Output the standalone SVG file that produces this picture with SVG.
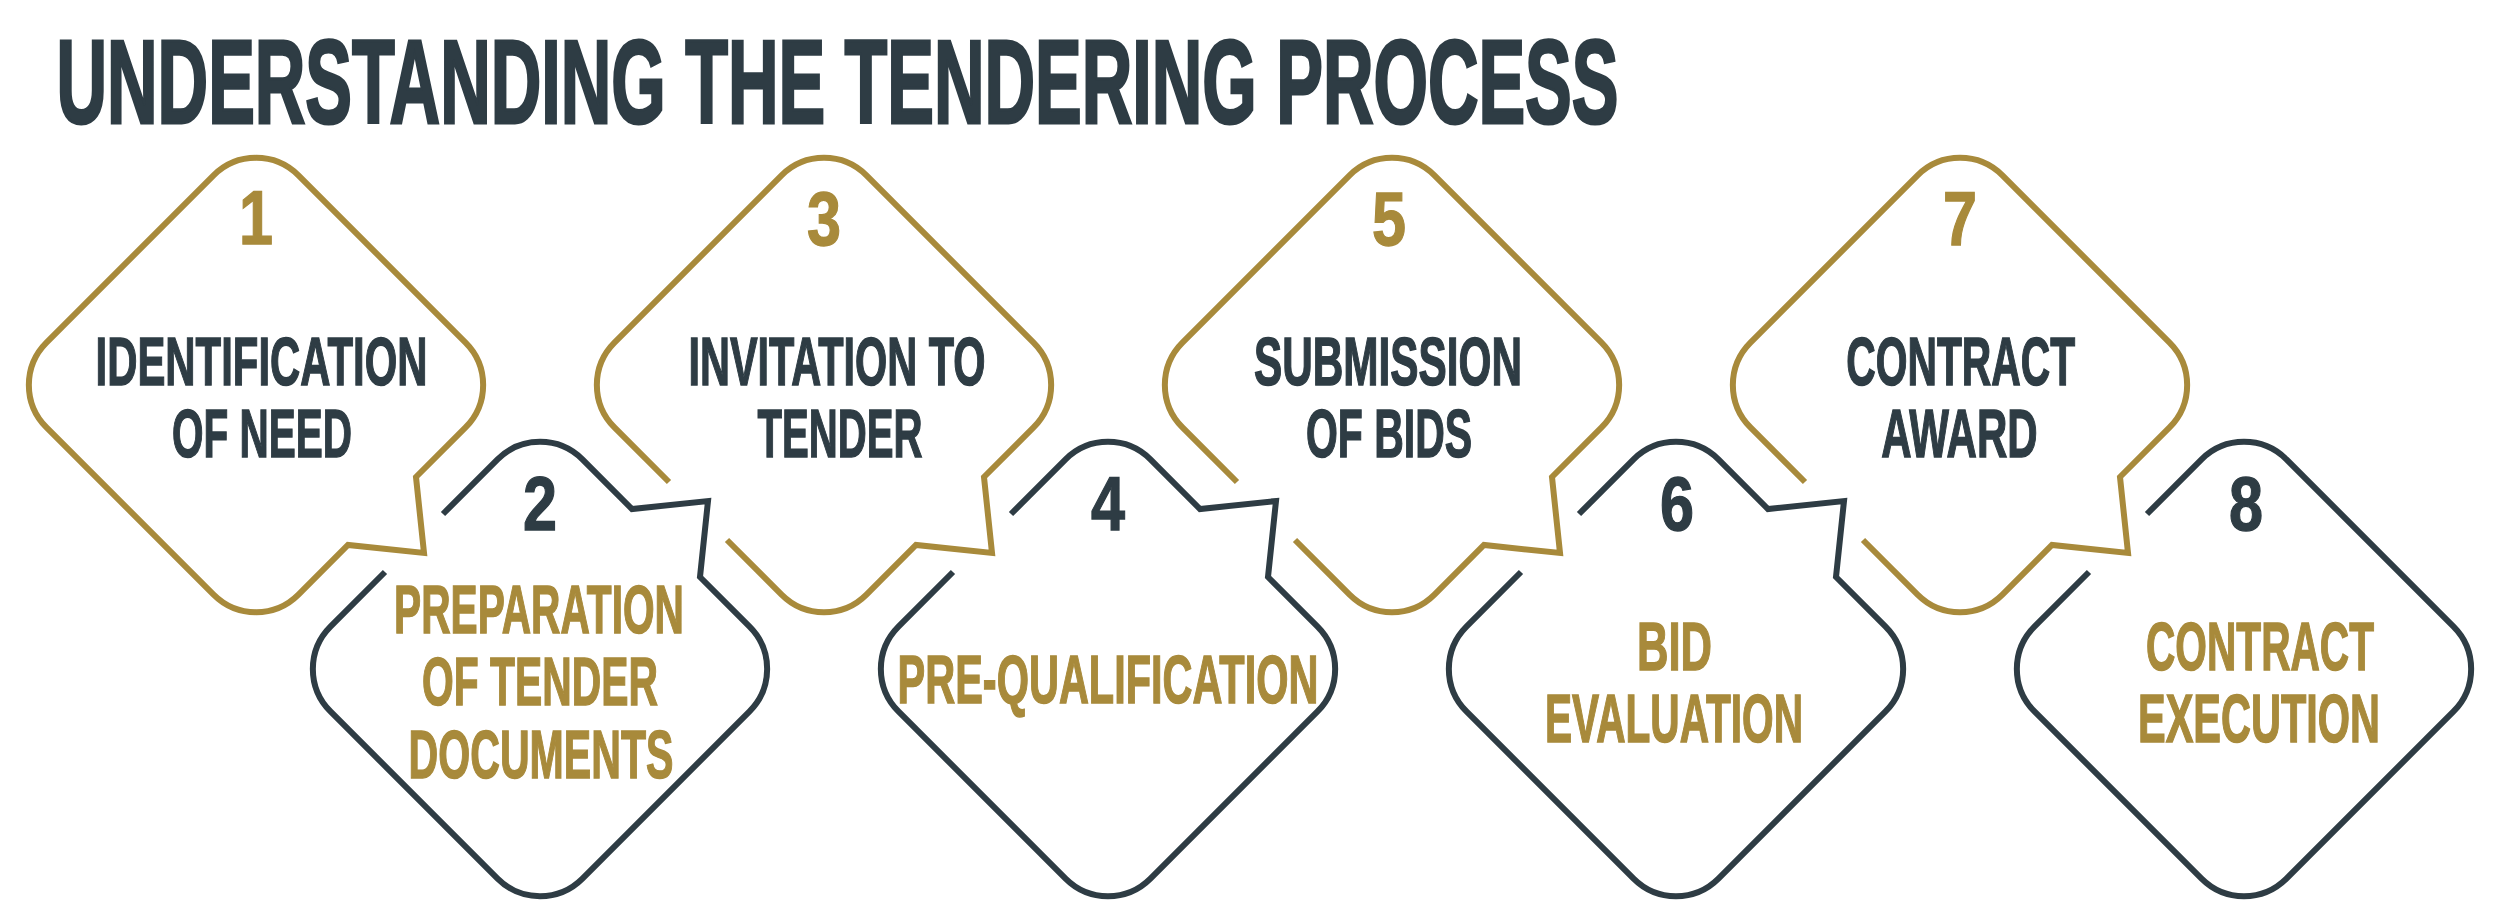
<svg xmlns="http://www.w3.org/2000/svg" xmlns:xlink="http://www.w3.org/1999/xlink" width="2501" height="917" viewBox="0 0 2501 917">
  <defs>
    <style>
      .bg { fill: #ffffff; }
      .outline { fill: none; stroke-width: 6; stroke-linejoin: miter; stroke-miterlimit: 10; stroke-linecap: butt; }
      .gold-line { stroke: #A88A3B; }
      .dark-line { stroke: #2E3C44; }
      .t { font-family: "Liberation Sans", Arial, "DejaVu Sans", sans-serif; font-weight: bold; text-anchor: middle; vector-effect: non-scaling-stroke; stroke-width: 1.2; }
      .title { fill: #2E3C44; stroke: #2E3C44; stroke-width: 2.5; }
      .gold { fill: #A88A3B; stroke: #A88A3B; }
      .dark { fill: #2E3C44; stroke: #2E3C44; }
    </style>
    <path id="odd-first" d="M -209.57,-42.43 L -42.43,-209.57 A 60 60 0 0 1 42.43,-209.57 L 209.57,-42.43 A 60 60 0 0 1 209.57,42.43 L 160,92 L 168,168 L 92,160 L 42.43,209.57 A 60 60 0 0 1 -42.43,209.57 L -209.57,42.43 A 60 60 0 0 1 -209.57,-42.43 Z"/>
    <path id="odd" d="M -155,97 L -209.57,42.43 A 60 60 0 0 1 -209.57,-42.43 L -42.43,-209.57 A 60 60 0 0 1 42.43,-209.57 L 209.57,-42.43 A 60 60 0 0 1 209.57,42.43 L 160,92 L 168,168 L 92,160 L 42.43,209.57 A 60 60 0 0 1 -42.43,209.57 L -97,155"/>
    <path id="even" d="M -97,-155 L -42.43,-209.57 A 60 60 0 0 1 42.43,-209.57 L 92,-160 L 168,-168 L 160,-92 L 209.57,-42.43 A 60 60 0 0 1 209.57,42.43 L 42.43,209.57 A 60 60 0 0 1 -42.43,209.57 L -209.57,42.43 A 60 60 0 0 1 -209.57,-42.43 L -155,-97"/>
    <path id="even-last" d="M -97,-155 L -42.43,-209.57 A 60 60 0 0 1 42.43,-209.57 L 209.57,-42.43 A 60 60 0 0 1 209.57,42.43 L 42.43,209.57 A 60 60 0 0 1 -42.43,209.57 L -209.57,42.43 A 60 60 0 0 1 -209.57,-42.43 L -155,-97"/>
  </defs>

  <rect class="bg" x="0" y="0" width="2501" height="917"/>

  <text id="title" class="t title" x="0" y="0" font-size="70" transform="translate(837.5,123) scale(1,1.705)">UNDERSTANDING THE TENDERING PROCESS</text>

  <g id="connectors"></g>

  <g id="node-1">
    <use xlink:href="#odd-first" href="#odd-first" class="outline gold-line" transform="translate(256,385)"/>
    <text class="t gold" x="0" y="0" font-size="61.15" transform="translate(256,244) scale(1,1.256)">1</text>
    <text class="t dark" x="0" y="0" font-size="41.88" transform="translate(261.5,384.5) scale(1,1.651)">IDENTIFICATION</text>
    <text class="t dark" x="0" y="0" font-size="40.49" transform="translate(262,457) scale(1,1.707)">OF NEED</text>
  </g>

  <g id="node-2">
    <use xlink:href="#even" href="#even" class="outline dark-line" transform="translate(540,669)"/>
    <text class="t dark" x="0" y="0" font-size="61.15" transform="translate(540,530) scale(1,1.256)">2</text>
    <text class="t gold" x="0" y="0" font-size="40.67" transform="translate(539,633) scale(1,1.700)">PREPARATION</text>
    <text class="t gold" x="0" y="0" font-size="40.84" transform="translate(540,705) scale(1,1.693)">OF TENDER</text>
    <text class="t gold" x="0" y="0" font-size="41.12" transform="translate(541,777.5) scale(1,1.681)">DOCUMENTS</text>
  </g>

  <g id="node-3">
    <use xlink:href="#odd" href="#odd" class="outline gold-line" transform="translate(824,385)"/>
    <text class="t gold" x="0" y="0" font-size="61.15" transform="translate(824,245) scale(1,1.256)">3</text>
    <text class="t dark" x="0" y="0" font-size="41.45" transform="translate(837,384.5) scale(1,1.668)">INVITATION TO</text>
    <text class="t dark" x="0" y="0" font-size="40.14" transform="translate(840,457) scale(1,1.722)">TENDER</text>
  </g>

  <g id="node-4">
    <use xlink:href="#even" href="#even" class="outline dark-line" transform="translate(1108,669)"/>
    <text class="t dark" x="0" y="0" font-size="61.15" transform="translate(1108,530) scale(1,1.256)">4</text>
    <text class="t gold" x="0" y="0" font-size="41.48" transform="translate(1108,703) scale(1,1.667)">PRE-QUALIFICATION</text>
  </g>

  <g id="node-5">
    <use xlink:href="#odd" href="#odd" class="outline gold-line" transform="translate(1392,385)"/>
    <text class="t gold" x="0" y="0" font-size="61.15" transform="translate(1389,245) scale(1,1.256)">5</text>
    <text class="t dark" x="0" y="0" font-size="42.31" transform="translate(1388,384.5) scale(1,1.634)">SUBMISSION</text>
    <text class="t dark" x="0" y="0" font-size="40.93" transform="translate(1389,457) scale(1,1.689)">OF BIDS</text>
  </g>

  <g id="node-6">
    <use xlink:href="#even" href="#even" class="outline dark-line" transform="translate(1676,669)"/>
    <text class="t dark" x="0" y="0" font-size="61.15" transform="translate(1677,530) scale(1,1.256)">6</text>
    <text class="t gold" x="0" y="0" font-size="43.55" transform="translate(1674.5,669.5) scale(1,1.588)">BID</text>
    <text class="t gold" x="0" y="0" font-size="40.62" transform="translate(1674,741.5) scale(1,1.702)">EVALUATION</text>
  </g>

  <g id="node-7">
    <use xlink:href="#odd" href="#odd" class="outline gold-line" transform="translate(1960,385)"/>
    <text class="t gold" x="0" y="0" font-size="61.15" transform="translate(1960,245) scale(1,1.256)">7</text>
    <text class="t dark" x="0" y="0" font-size="40.82" transform="translate(1960.7,384.5) scale(1,1.694)">CONTRACT</text>
    <text class="t dark" x="0" y="0" font-size="42.01" transform="translate(1959.4,457) scale(1,1.646)">AWARD</text>
  </g>

  <g id="node-8">
    <use xlink:href="#even-last" href="#even-last" class="outline dark-line" transform="translate(2244,669)"/>
    <text class="t dark" x="0" y="0" font-size="61.15" transform="translate(2246,530) scale(1,1.256)">8</text>
    <text class="t gold" x="0" y="0" font-size="40.64" transform="translate(2260,669.5) scale(1,1.701)">CONTRACT</text>
    <text class="t gold" x="0" y="0" font-size="41.48" transform="translate(2259,741.5) scale(1,1.667)">EXECUTION</text>
  </g>
</svg>
